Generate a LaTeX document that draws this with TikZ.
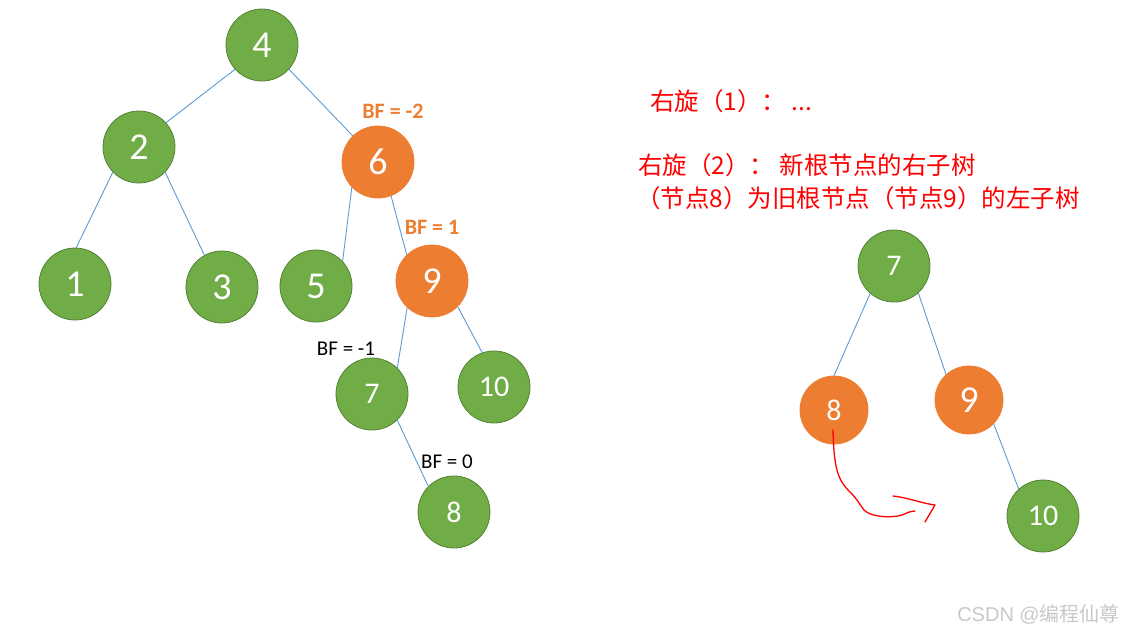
\documentclass[tikz,border=0pt]{standalone}
\usepackage{fontspec}
\setmainfont{Carlito}
\newfontfamily\cjk{Noto Sans CJK SC}
\newfontfamily\wmfont{Liberation Sans}
\definecolor{gfill}{RGB}{112,173,71}
\definecolor{gdraw}{RGB}{84,130,53}
\definecolor{ofill}{RGB}{237,125,49}
\definecolor{edgeblue}{RGB}{91,155,213}
\definecolor{wm}{RGB}{200,200,200}
\tikzset{
  gnode/.style={circle, fill=gfill, draw=gdraw, line width=0.8pt, minimum size=72pt, inner sep=0pt, text=white},
  onode/.style={circle, fill=ofill, draw=ofill, line width=0.8pt, minimum size=72pt, inner sep=0pt, text=white},
  big/.style={font=\fontsize{38}{38}\selectfont},
  mid/.style={font=\fontsize{30}{30}\selectfont},
  tedge/.style={draw=edgeblue, line width=0.9pt},
  bfo/.style={text=ofill, font=\bfseries\fontsize{22}{22}\selectfont, inner sep=0pt},
  bfk/.style={text=black, font=\fontsize{21}{21}\selectfont, inner sep=0pt},
  note/.style={text=red, font=\cjk\fontsize{24.5}{24.5}\selectfont, inner sep=0pt, anchor=west},
}
\begin{document}
\begin{tikzpicture}[x=1pt,y=-1pt]
\useasboundingbox (0,0) rectangle (1125,635);
% left tree
\node[gnode,big] (n4) at (262,45) {4};
\node[gnode,big] (n2) at (139,147) {2};
\node[onode,big] (n6) at (378,162) {6};
\node[gnode,big] (n1) at (75,284) {1};
\node[gnode,big] (n3) at (222,287) {3};
\node[gnode,big] (n5) at (316,286) {5};
\node[onode,big] (n9) at (432,281) {9};
\node[gnode,mid] (n7) at (372,394) {7};
\node[gnode,mid] (n10) at (494,387) {10};
\node[gnode,mid] (n8) at (454,512) {8};
\path[tedge] (n4.222) -- (n2.42);
\path[tedge] (n4.318) -- (n6.134);
\path[tedge] (n2.224) -- (n1.88);
\path[tedge] (n2.316) -- (n3.119);
\path[tedge] (n6.224) -- (n5.43);
\path[tedge] (n6.291) -- (n9.134);
\path[tedge] (n9.227) -- (n7.46);
\path[tedge] (n9.315) -- (n10.109);
\path[tedge] (n7.314) -- (n8.135);
\node[bfo] (bf6) at (393,111) {BF = -2};
\node[bfo] (bf9) at (432,227) {BF = 1};
\node[bfk] (bf7) at (346,349) {BF = -1};
\node[bfk] (bf8) at (447,462) {BF = 0};
% notes
\node[note] (t1) at (650,101) {右旋（1）： ...};
\node[note] (t2) at (638,165) {右旋（2）： 新根节点的右子树};
\node[note] (t3) at (636,198) {（节点8）为旧根节点（节点9）的左子树};
% right tree
\node[gnode,mid] (r7) at (894,266) {7};
\node[onode,mid,minimum size=68pt] (r8) at (834,410) {8};
\node[onode,big,minimum size=68pt] (r9) at (969,400) {9};
\node[gnode,mid] (r10) at (1043,516) {10};
\path[tedge] (r7.229) -- (r8.90);
\path[tedge] (r7.312) -- (r9.132);
\path[tedge] (r9.316) -- (r10.132);
% hand-drawn red arrow
\coordinate (c0) at (833,430);
\draw[red, line width=1.3pt, line cap=round, line join=round]
  (c0) .. controls (834,470) and (838,480) .. (850,492)
  .. controls (858,500) and (860,505) .. (864,510)
  .. controls (870,516) and (885,518) .. (898,516)
  .. controls (905,515) and (908,511) .. (915,511);
\draw[red, line width=1.3pt, line cap=round, line join=round]
  (893,496) .. controls (910,498) and (920,503) .. (935,505) -- (925,522);
% watermark
\node[text=wm, font=\wmfont\fontsize{20}{20}\selectfont, inner sep=0pt, anchor=east] (wmk) at (1120,614) {CSDN @{\cjk 编程仙尊}};
\end{tikzpicture}
\end{document}
